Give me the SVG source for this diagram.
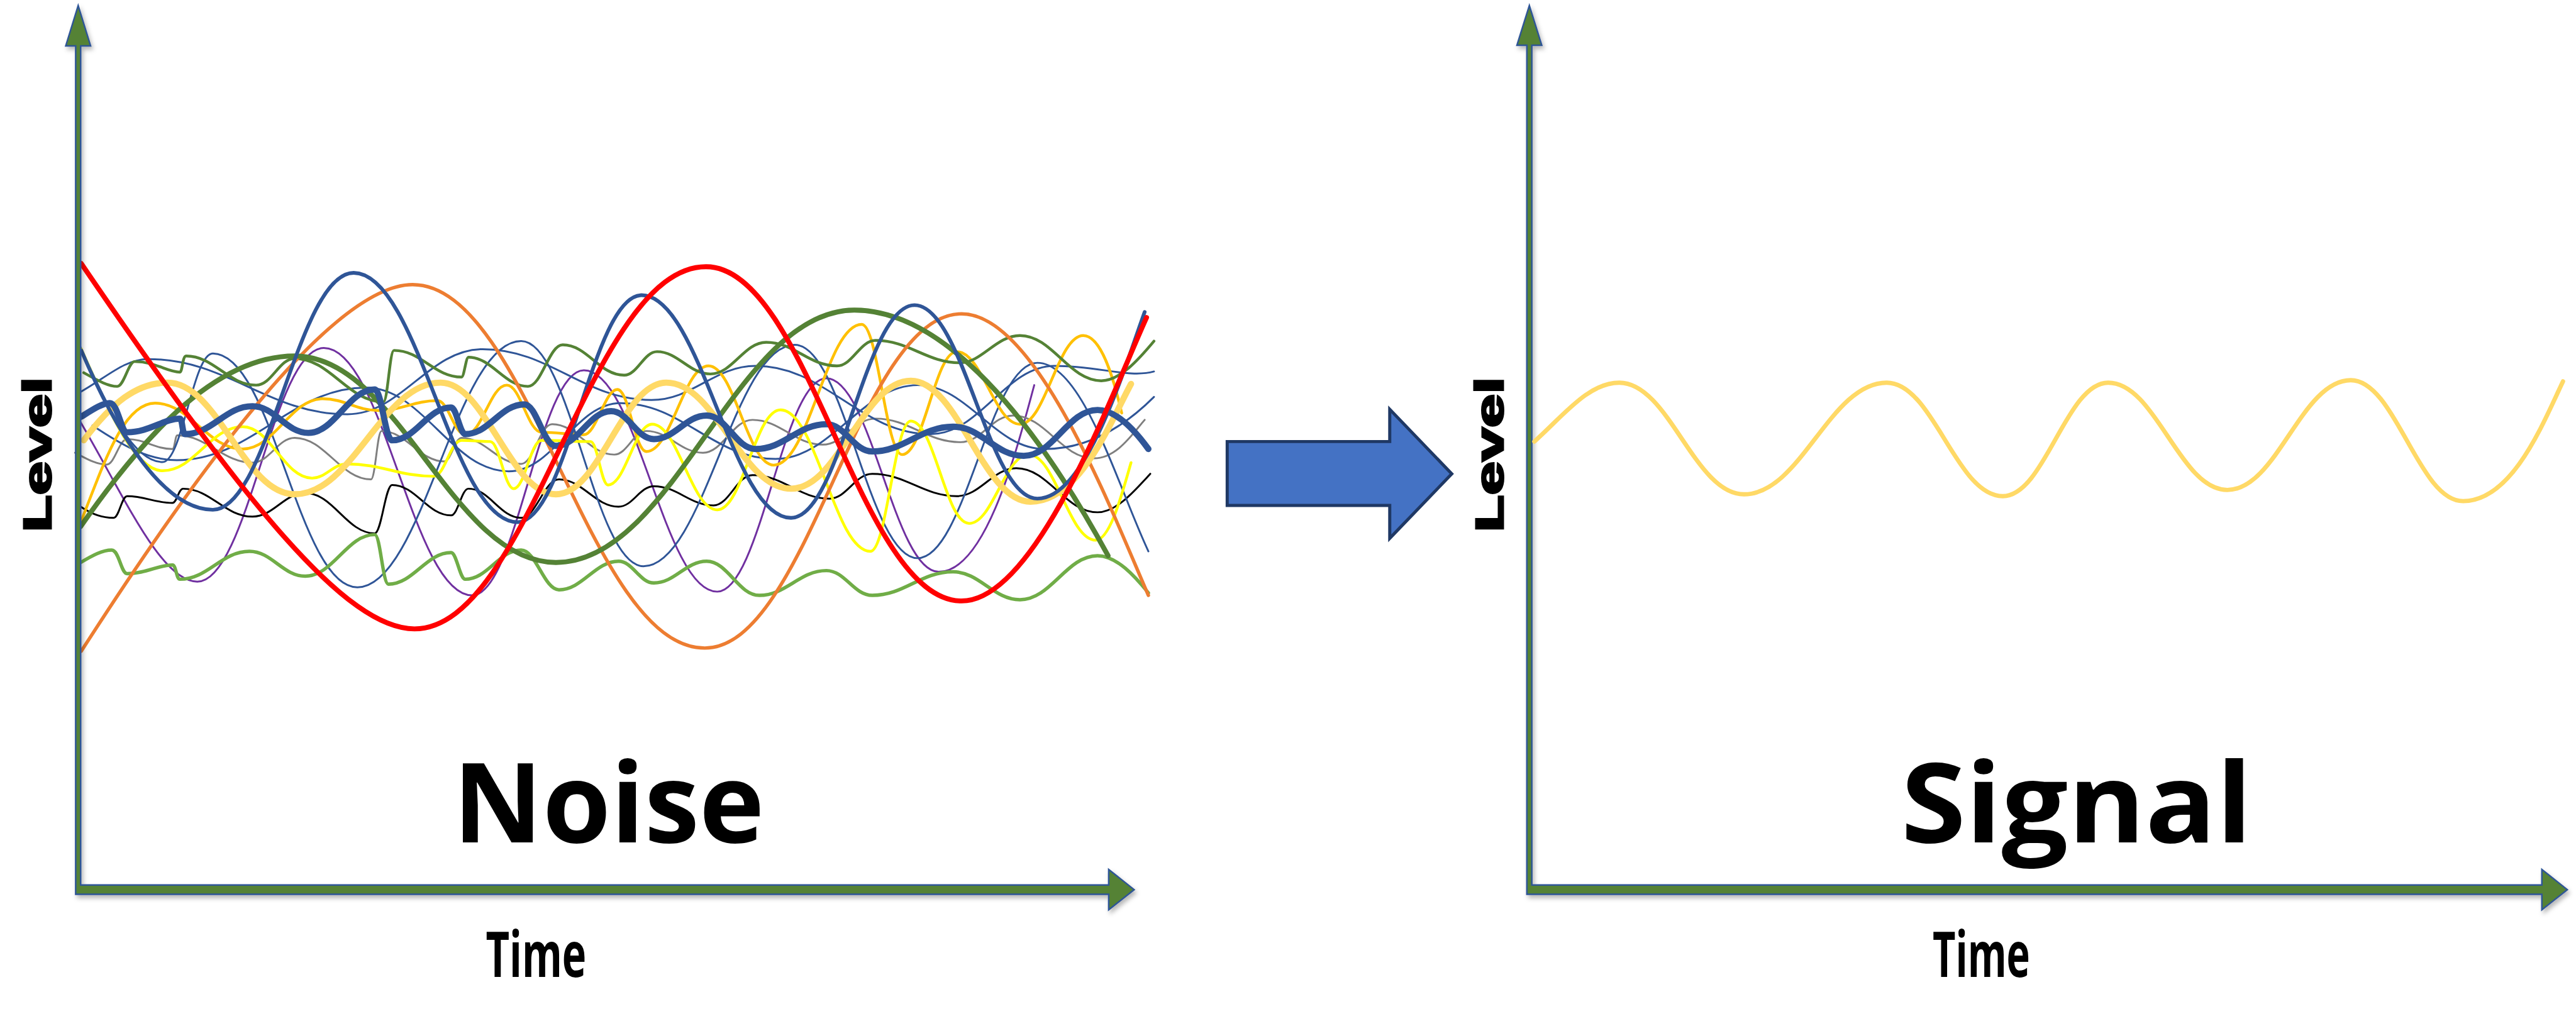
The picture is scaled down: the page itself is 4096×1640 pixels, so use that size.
<svg xmlns="http://www.w3.org/2000/svg" width="4096" height="1640" viewBox="0 0 4096 1640">
<defs>
<filter id="sh" x="-5%" y="-5%" width="110%" height="110%">
<feDropShadow dx="3" dy="5" stdDeviation="4" flood-color="#000" flood-opacity="0.28"/>
</filter>
</defs>
<style>
.axis{fill:#548235;stroke:#2F5597;stroke-width:2.5;stroke-linejoin:miter}
.c{fill:none;stroke-linecap:round;stroke-linejoin:round}
.lbl{font-family:"Liberation Sans",Arial,sans-serif;font-weight:700;fill:#000;stroke:#000;stroke-width:3}
.big{font-family:"Open Sans","Liberation Sans",sans-serif;font-weight:700;fill:#000}
</style>
<rect width="4096" height="1640" fill="#fff"/>
<g transform="scale(0.98651)">
<g id="noise-chart">
<g id="noise-curves">
<path class="c" stroke="#7030A0" stroke-width="3" d="M130,681 C200,800 260,938 318,938 C400,938 440,561 522,561 C618,561 665,960 761,960 C833,960 869,597 941,597 C1027,597 1070,954 1156,954 C1226,954 1262,610 1332,610 C1404,610 1441,922 1513,922 C1590,922 1640,720 1667,621"/>
<path class="c" stroke="#7F7F7F" stroke-width="3" d="M121,730 C140,740 155,749 172,749 C185,749 192,708 205,708 C234,708 249,724 278,724 C282,724 282,702 286,702 C334,702 359,746 407,746 C434,746 448,706 475,706 C524,706 549,773 598,773 C605,773 608,695 615,695 C655,695 676,744 716,744 C727,744 733,706 744,706 C782,706 802,748 840,748 C860,748 870,684 890,684 C930,684 950,733 990,733 C1011,733 1021,695 1042,695 C1078,695 1097,730 1133,730 C1165,730 1181,677 1213,677 C1258,677 1281,717 1326,717 C1360,717 1377,675 1411,675 C1466,675 1493,713 1548,713 C1582,713 1599,670 1633,670 C1685,670 1711,739 1763,739 C1800,739 1825,700 1845,677"/>
<path class="c" stroke="#000000" stroke-width="3" d="M130,817 C150,830 165,835 183,835 C192,835 196,800 205,800 C234,800 249,811 278,811 C285,811 288,788 295,788 C340,788 362,833 407,833 C441,833 458,795 492,795 C537,795 559,860 604,860 C615,860 621,782 632,782 C670,782 689,831 727,831 C738,831 744,788 755,788 C789,788 806,835 840,835 C864,835 877,773 901,773 C939,773 959,817 997,817 C1020,817 1031,784 1054,784 C1092,784 1112,815 1150,815 C1175,815 1188,766 1213,766 C1263,766 1287,804 1337,804 C1365,804 1378,764 1406,764 C1460,764 1488,800 1542,800 C1580,800 1600,755 1638,755 C1690,755 1717,826 1769,826 C1800,826 1830,790 1854,764"/>
<path class="c" stroke="#2F5597" stroke-width="3" d="M130,560 C175,660 215,745 262,745 C294,745 311,570 343,570 C440,570 480,947 576,947 C682,947 734,550 840,550 C919,550 958,913 1037,913 C1135,913 1183,556 1281,556 C1360,556 1400,900 1479,900 C1556,900 1595,585 1672,585 C1745,585 1800,780 1851,889"/>
<path class="c" stroke="#2F5597" stroke-width="3" d="M128,633 C170,610 200,579 239,579 C367,579 432,668 560,668 C647,668 691,563 778,563 C887,563 941,645 1050,645 C1117,645 1151,590 1218,590 C1331,590 1387,700 1500,700 C1580,700 1620,590 1700,590 C1770,590 1820,610 1860,599"/>
<path class="c" stroke="#2F5597" stroke-width="3" d="M149,686 C200,720 240,742 285,742 C407,742 468,625 590,625 C682,625 728,760 820,760 C892,760 928,650 1000,650 C1100,650 1150,740 1250,740 C1340,740 1390,621 1479,621 C1561,621 1602,724 1684,724 C1760,724 1820,680 1860,640"/>
<path class="c" stroke="#FFC000" stroke-width="4.5" d="M131,840 C170,740 200,650 250,650 C306,650 335,724 391,724 C443,724 468,643 520,643 C556,643 574,662 610,662 C648,662 667,646 705,646 C723,646 732,701 750,701 C777,701 790,621 817,621 C839,621 851,697 873,697 C900,697 914,701 941,701 C961,701 975,628 995,628 C1014,628 1023,728 1042,728 C1082,728 1102,590 1142,590 C1184,590 1205,750 1247,750 C1304,750 1332,523 1389,523 C1415,523 1428,733 1454,733 C1489,733 1507,567 1542,567 C1583,567 1603,684 1644,684 C1685,684 1705,541 1746,541 C1775,541 1795,610 1808,666"/>
<path class="c" stroke="#FFFF00" stroke-width="4.5" d="M131,563 C170,650 215,759 262,759 C314,759 339,688 391,688 C436,688 458,771 503,771 C525,771 537,748 559,748 C615,748 643,768 699,768 C717,768 726,710 744,710 C762,710 772,712 790,712 C805,712 813,788 828,788 C846,788 855,710 873,710 C905,710 920,712 952,712 C963,712 969,782 980,782 C1008,782 1023,684 1051,684 C1093,684 1114,822 1156,822 C1197,822 1217,661 1258,661 C1316,661 1345,889 1403,889 C1429,889 1442,679 1468,679 C1506,679 1524,844 1562,844 C1600,844 1620,733 1658,733 C1701,733 1723,871 1766,871 C1790,871 1810,790 1823,746"/>
<path class="c" stroke="#70AD47" stroke-width="5.5" d="M130,907 C150,895 165,887 180,887 C192,887 195,925 205,925 C235,925 255,911 278,911 C284,911 284,934 290,934 C335,934 357,889 402,889 C438,889 456,929 492,929 C537,929 559,862 604,862 C613,862 617,942 626,942 C666,942 687,891 727,891 C736,891 741,934 750,934 C786,934 804,887 840,887 C864,887 877,951 901,951 C939,951 959,905 997,905 C1020,905 1031,940 1054,940 C1088,940 1105,905 1139,905 C1173,905 1190,960 1224,960 C1267,960 1289,920 1332,920 C1362,920 1376,960 1406,960 C1458,960 1484,922 1536,922 C1579,922 1601,967 1644,967 C1694,967 1719,896 1769,896 C1800,896 1830,930 1851,956"/>
<path class="c" stroke="#548235" stroke-width="4.5" d="M135,601 C160,615 175,623 189,623 C200,623 207,583 217,583 C250,583 270,600 290,600 C294,600 294,574 300,574 C345,574 368,621 413,621 C438,621 450,578 475,578 C532,578 561,648 618,648 C625,648 628,565 635,565 C679,565 700,608 744,608 C748,608 751,576 755,576 C793,576 813,623 851,623 C873,623 885,556 907,556 C947,556 966,605 1006,605 C1027,605 1038,567 1059,567 C1093,567 1111,603 1145,603 C1181,603 1199,552 1235,552 C1281,552 1303,590 1349,590 C1374,590 1386,549 1411,549 C1466,549 1493,585 1548,585 C1582,585 1606,541 1644,541 C1696,541 1723,614 1775,614 C1805,614 1835,580 1860,550"/>
<path class="c" stroke="#ED7D31" stroke-width="5.5" d="M131,1050 C330,740 540,459 665,459 C853,459 948,1045 1136,1045 C1302,1045 1384,506 1550,506 C1670,506 1790,820 1851,960"/>
<path class="c" stroke="#548235" stroke-width="8" d="M130,849 C220,720 340,574 475,574 C643,574 728,907 896,907 C1088,907 1185,500 1377,500 C1540,500 1690,720 1786,896"/>
<path class="c" stroke="#FFD966" stroke-width="10" d="M135,710 C180,650 220,617 270,617 C352,617 393,797 475,797 C569,797 616,617 710,617 C784,617 822,797 896,797 C967,797 1003,617 1074,617 C1154,617 1195,788 1275,788 C1352,788 1391,614 1468,614 C1545,614 1584,809 1661,809 C1740,809 1790,680 1823,619"/>
<path class="c" stroke="#2F5597" stroke-width="6" d="M131,565 C180,680 258,822 343,822 C434,822 479,440 570,440 C676,440 728,842 834,842 C914,842 954,476 1034,476 C1130,476 1179,835 1275,835 C1355,835 1394,492 1474,492 C1553,492 1593,804 1672,804 C1750,804 1810,600 1845,503"/>
<path class="c" stroke="#2F5597" stroke-width="10" d="M131,672 C150,660 165,650 177,650 C190,650 195,697 205,697 C240,697 265,675 290,675 C294,675 294,700 298,700 C342,700 363,655 407,655 C443,655 461,698 497,698 C540,698 561,628 604,628 C615,628 621,710 632,710 C670,710 689,657 727,657 C736,657 741,700 750,700 C788,700 807,652 845,652 C865,652 876,719 896,719 C932,719 949,663 985,663 C1013,663 1026,708 1054,708 C1088,708 1105,670 1139,670 C1171,670 1186,724 1218,724 C1264,724 1286,684 1332,684 C1362,684 1376,728 1406,728 C1458,728 1484,688 1536,688 C1582,688 1604,735 1650,735 C1698,735 1721,661 1769,661 C1800,661 1830,695 1851,724"/>
<path class="c" stroke="#FF0000" stroke-width="8" d="M131,425 C400,820 560,1014 668,1014 C856,1014 950,430 1138,430 C1303,430 1385,969 1550,969 C1670,969 1790,640 1848,512"/>
</g>
<path id="noise-axes" class="axis" filter="url(#sh)" d="M126,9 L146,74 L130,74 L130,1427 L1787,1427 L1787,1402 L1828,1434.5 L1787,1467 L1787,1442 L122,1442 L122,74 L106,74 Z"/>
<text class="lbl" font-size="64" transform="translate(82,858) rotate(-90)" textLength="250" lengthAdjust="spacingAndGlyphs">Level</text>
<text class="big" font-size="102" x="783" y="1575" textLength="162" lengthAdjust="spacingAndGlyphs">Time</text>
<text class="big" font-size="179" x="730" y="1358" textLength="502" lengthAdjust="spacingAndGlyphs">Noise</text>
</g>
<g id="transform-arrow">
<path d="M1978,712 H2240 V660 L2340,764 L2240,868 V815 H1978 Z" fill="#4472C4" stroke="#1F3864" stroke-width="5"/>
</g>
<g id="signal-chart">
<path id="signal-axes" class="axis" filter="url(#sh)" d="M2465,9 L2485,73 L2469,73 L2469,1427 L4097,1427 L4097,1402 L4138,1434.5 L4097,1467 L4097,1442 L2461,1442 L2461,73 L2445,73 Z"/>
<path id="signal-wave" class="c" stroke="#FFD966" stroke-width="7" d="M2473,712 C2520,670 2560,617 2610,617 C2690,617 2731,797 2811,797 C2903,797 2949,617 3041,617 C3116,617 3153,800 3228,800 C3296,800 3330,617 3398,617 C3475,617 3513,790 3590,790 C3670,790 3709,613 3789,613 C3861,613 3898,808 3970,808 C4050,808 4100,680 4131,615"/>
<text class="lbl" font-size="64" transform="translate(2423,858) rotate(-90)" textLength="250" lengthAdjust="spacingAndGlyphs">Level</text>
<text class="big" font-size="102" x="3115" y="1575" textLength="157" lengthAdjust="spacingAndGlyphs">Time</text>
<text class="big" font-size="179" x="3064" y="1358" textLength="566" lengthAdjust="spacingAndGlyphs">Signal</text>
</g>
</g>
</svg>
